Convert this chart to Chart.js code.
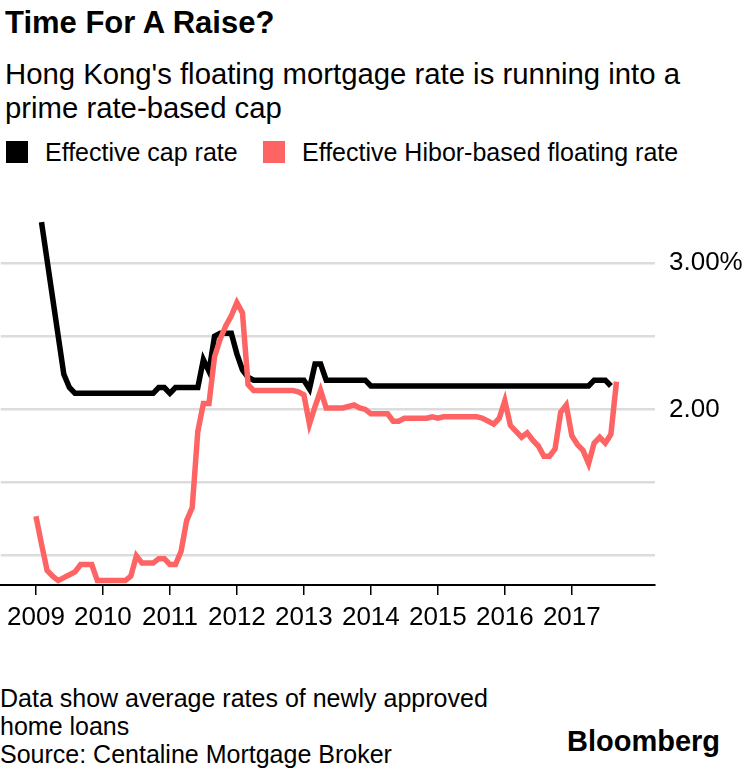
<!DOCTYPE html>
<html>
<head>
    <title>Time For A Raise?</title>
    <script src="https://cdn.jsdelivr.net/npm/chart.js@4.4.1/dist/chart.umd.min.js"></script>
    <style>
        body {
            margin: 0;
            width: 750px;
            height: 773px;
            overflow: hidden;
            background: #fff;
            font-family: "Liberation Sans", Arial, sans-serif;
            color: #000;
            position: relative;
        }
        .abs { position: absolute; white-space: nowrap; }
        #title { left: 5px; top: 5px; font-size: 31px; line-height: 36px; font-weight: bold; }
        #subtitle { left: 5px; top: 57px; font-size: 29.3px; line-height: 34px; }
        .legend { top: 137px; font-size: 25px; line-height: 30px; }
        .swatch { position: absolute; top: 141px; width: 22px; height: 22px; }
        #footer { left: 0px; top: 684px; font-size: 25px; line-height: 28px; }
        #logo { left: 567px; top: 725px; font-size: 29px; line-height: 32px; font-weight: bold; }
        .chart-box { position: absolute; left: 0; top: 175px; width: 750px; height: 465px; }
    </style>
</head>
<body>
    <div id="title" class="abs">Time For A Raise?</div>
    <div id="subtitle" class="abs">Hong Kong's floating mortgage rate is running into a<br>prime rate-based cap</div>

    <div class="swatch" style="left: 6px; background: #000;"></div>
    <div class="abs legend" style="left: 45px;">Effective cap rate</div>
    <div class="swatch" style="left: 263px; background: #ff6464;"></div>
    <div class="abs legend" style="left: 302px;">Effective Hibor-based floating rate</div>

    <div class="chart-box">
        <canvas id="rateChart"></canvas>
    </div>

    <div id="footer" class="abs">Data show average rates of newly approved<br>home loans<br>Source: Centaline Mortgage Broker</div>
    <div id="logo" class="abs">Bloomberg</div>

    <script>
        // monthly, Jan 2009 .. Sep 2017 (index 0 = Jan 2009)
        const yearLabels = ['2009', '2010', '2011', '2012', '2013', '2014', '2015', '2016', '2017'];

        const capRate = [
            null, 3.28, 3.02, 2.76, 2.50, 2.24, 2.15, 2.11, 2.11, 2.11, 2.11, 2.11,
            2.11, 2.11, 2.11, 2.11, 2.11, 2.11, 2.11, 2.11, 2.11, 2.11, 2.15, 2.15,
            2.11, 2.15, 2.15, 2.15, 2.15, 2.15, 2.34, 2.26, 2.50, 2.52, 2.52, 2.52,
            2.38, 2.27, 2.22, 2.20, 2.20, 2.20, 2.20, 2.20, 2.20, 2.20, 2.20, 2.20,
            2.20, 2.14, 2.31, 2.31, 2.20, 2.20, 2.20, 2.20, 2.20, 2.20, 2.20, 2.20,
            2.16, 2.16, 2.16, 2.16, 2.16, 2.16, 2.16, 2.16, 2.16, 2.16, 2.16, 2.16,
            2.16, 2.16, 2.16, 2.16, 2.16, 2.16, 2.16, 2.16, 2.16, 2.16, 2.16, 2.16,
            2.16, 2.16, 2.16, 2.16, 2.16, 2.16, 2.16, 2.16, 2.16, 2.16, 2.16, 2.16,
            2.16, 2.16, 2.16, 2.16, 2.20, 2.20, 2.20, 2.16, null
        ];

        const hiborRate = [
            1.27, 1.08, 0.90, 0.86, 0.83, 0.85, 0.87, 0.89, 0.94, 0.94, 0.94, 0.83,
            0.83, 0.83, 0.83, 0.83, 0.83, 0.86, 1.00, 0.95, 0.95, 0.95, 0.98, 0.98,
            0.94, 0.94, 1.03, 1.24, 1.33, 1.85, 2.04, 2.04, 2.36, 2.48, 2.57, 2.64,
            2.73, 2.66, 2.17, 2.13, 2.13, 2.13, 2.13, 2.13, 2.13, 2.13, 2.13, 2.12,
            2.10, 1.90, 2.02, 2.13, 2.01, 2.01, 2.01, 2.01, 2.02, 2.03, 2.01, 2.00,
            1.97, 1.97, 1.97, 1.97, 1.92, 1.92, 1.94, 1.94, 1.94, 1.94, 1.94, 1.95,
            1.94, 1.95, 1.95, 1.95, 1.95, 1.95, 1.95, 1.95, 1.94, 1.92, 1.90, 1.94,
            2.06, 1.89, 1.85, 1.81, 1.84, 1.79, 1.75, 1.68, 1.68, 1.73, 1.98, 2.03,
            1.82, 1.76, 1.72, 1.63, 1.77, 1.81, 1.77, 1.83, 2.19
        ];

        const yTicks = [1.0, 1.5, 2.0, 2.5, 3.0];

        function toPoints(values) {
            return values.map(function(v, i) {
                return { x: i, y: v };
            });
        }

        const fontFamily = '"Liberation Sans", Arial, sans-serif';

        new Chart(document.getElementById('rateChart'), {
            type: 'line',
            data: {
                datasets: [
                    {
                        label: 'Effective Hibor-based floating rate',
                        data: toPoints(hiborRate),
                        borderColor: '#ff6464',
                        borderWidth: 5.5,
                        pointRadius: 0,
                        tension: 0,
                        order: 1
                    },
                    {
                        label: 'Effective cap rate',
                        data: toPoints(capRate),
                        borderColor: '#000',
                        borderWidth: 5.5,
                        pointRadius: 0,
                        tension: 0,
                        order: 2
                    }
                ]
            },
            options: {
                responsive: true,
                maintainAspectRatio: false,
                animation: false,
                // the y axis already asks for ~30px on top (half label + padding)
                layout: { padding: 0 },
                plugins: {
                    legend: { display: false },
                    tooltip: { enabled: false }
                },
                scales: {
                    x: {
                        type: 'linear',
                        min: -6.3,
                        max: 110.9,
                        afterBuildTicks: function(axis) {
                            axis.ticks = yearLabels.map(function(y, k) {
                                return { value: k * 12 };
                            });
                        },
                        afterFit: function(scale) {
                            scale.height = 55;
                        },
                        ticks: {
                            autoSkip: false,
                            maxRotation: 0,
                            padding: 7,
                            color: '#000',
                            font: { family: fontFamily, size: 26 },
                            callback: function(value, index) {
                                return yearLabels[index];
                            }
                        },
                        grid: {
                            display: true,
                            drawOnChartArea: false,
                            drawTicks: true,
                            tickLength: 10,
                            color: '#000',
                            lineWidth: 1.5
                        },
                        border: { display: true, color: '#000', width: 2 }
                    },
                    y: {
                        position: 'right',
                        min: 0.8,
                        max: 3.4,
                        afterBuildTicks: function(axis) {
                            axis.ticks = yTicks.map(function(v) {
                                return { value: v };
                            });
                        },
                        afterFit: function(scale) {
                            scale.width = 95;
                        },
                        ticks: {
                            padding: 14,
                            color: '#000',
                            font: { family: fontFamily, size: 26 },
                            callback: function(value) {
                                if (value === 3) return '3.00%';
                                if (value === 2) return '2.00';
                                return '';
                            }
                        },
                        grid: {
                            color: '#dcdcdc',
                            lineWidth: 2.5,
                            drawTicks: false
                        },
                        border: { display: false }
                    }
                }
            }
        });
    </script>
</body>
</html>
